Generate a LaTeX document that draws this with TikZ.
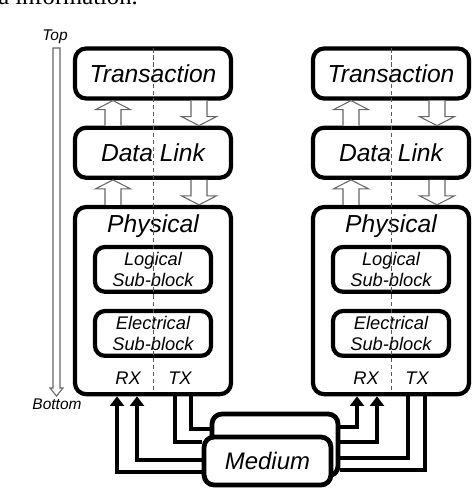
\documentclass[tikz,border=0pt]{standalone}
\usepackage{fontspec}
\setmainfont{Liberation Sans}
\newfontfamily\capfont{Liberation Serif}
\usepackage{tikz}
\usetikzlibrary{positioning, calc, arrows.meta}
\tikzset{layer/.style={draw, line width=3pt, rounded corners=0.28cm, minimum width=3.9cm, minimum height=1.25cm, inner sep=0pt, font=\fontsize{17.5}{20}\selectfont\itshape}}
\tikzset{subblock/.style={draw, line width=3pt, rounded corners=0.25cm, minimum width=2.9cm, minimum height=1.12cm, inner sep=0pt, align=center, font=\fontsize{13}{15.5}\selectfont\itshape}}
\tikzset{medium/.style={draw, fill=white, line width=3.4pt, rounded corners=0.25cm, inner sep=0pt, font=\fontsize{17}{20}\selectfont\itshape}}
\tikzset{title/.style={inner sep=0pt, font=\fontsize{17.5}{20}\selectfont\itshape}}
\tikzset{port/.style={inner sep=0pt, font=\fontsize{13}{15}\selectfont\itshape}}
\tikzset{edgetext/.style={inner sep=0pt, font=\fontsize{11}{13}\selectfont\itshape}}
\tikzset{wire/.style={line width=3.4pt, -{Triangle[width=0.35cm, length=0.24cm]}}}
\tikzset{plain/.style={line width=3.4pt}}
\tikzset{hollow/.style={draw=black!60, line width=0.75pt, fill=white}}
\tikzset{divider/.style={draw=black!65, line width=0.6pt, dash pattern=on 3pt off 2pt}}
\tikzset{uparr/.pic={\draw[hollow] (-8,0) -- (-8,-16) -- (-17.5,-16) -- (0,-25) -- (17.5,-16) -- (8,-16) -- (8,0);}}
\tikzset{dnarr/.pic={\draw[hollow] (-8,0) -- (-8,16) -- (-17.5,16) -- (0,25) -- (17.5,16) -- (8,16) -- (8,0);}}

\begin{document}
\begin{tikzpicture}[x=0.025cm, y=-0.025cm]
      \useasboundingbox (0,0) rectangle (474,490);

      \node[font=\capfont\fontsize{17.5}{20}\selectfont, anchor=base east, inner sep=0pt] (cap) at (138,5) {a information.};

      % left stack
      \node[layer] (tranL) at (153,73.5) {Transaction};
      \node[layer, below=0.625cm of tranL] (linkL) {Data Link};
      \node[layer, minimum height=4.68cm, below=0.625cm of linkL] (phyL) {};
      \node[title] (phyLt) at ($(phyL.north)+(0,21)$) {Physical};
      \node[subblock, below=1.0cm of phyL.north] (logL) {Logical\\Sub-block};
      \node[subblock, below=0.375cm of logL] (eleL) {Electrical\\Sub-block};
      \node[port] (rxL) at ($(phyL.south)+(-25,-18)$) {RX};
      \node[port] (txL) at ($(phyL.south)+(27,-18)$) {TX};
      \pic at ($(linkL.north)+(-40,0)$) {uparr};
      \pic at ($(tranL.south)+(46,0)$) {dnarr};
      \pic at ($(phyL.north)+(-40,0)$) {uparr};
      \pic at ($(linkL.south)+(46,0)$) {dnarr};

      % right stack
      \node[layer] (tranR) at (391,73.5) {Transaction};
      \node[layer, below=0.625cm of tranR] (linkR) {Data Link};
      \node[layer, minimum height=4.68cm, below=0.625cm of linkR] (phyR) {};
      \node[title] (phyRt) at ($(phyR.north)+(0,21)$) {Physical};
      \node[subblock, below=1.0cm of phyR.north] (logR) {Logical\\Sub-block};
      \node[subblock, below=0.375cm of logR] (eleR) {Electrical\\Sub-block};
      \node[port] (rxR) at ($(phyR.south)+(-25,-18)$) {RX};
      \node[port] (txR) at ($(phyR.south)+(26,-18)$) {TX};
      \pic at ($(linkR.north)+(-40,0)$) {uparr};
      \pic at ($(tranR.south)+(46,0)$) {dnarr};
      \pic at ($(phyR.north)+(-40,0)$) {uparr};
      \pic at ($(linkR.south)+(46,0)$) {dnarr};

      % top to bottom
      \node[edgetext] (top) at (55,37) {Top};
      \node[edgetext] (bot) at (57,404) {Bottom};
      \draw[hollow] (53,48) -- (53,388) -- (50,388) -- (56.5,396) -- (63,388) -- (60,388) -- (60,48) -- cycle;

      % medium
      \node[medium, minimum width=3.15cm, minimum height=1.55cm] (medB) at (275,445) {};
      \node[medium, minimum width=3.17cm, minimum height=1.2cm] (medF) at (267.5,461) {Medium};

      \draw[wire] ($(medF.west)+(0,11)$) -| ($(phyL.south)+(-36,0)$);
      \draw[wire] ($(medF.west)+(0,-1)$) -| ($(phyL.south)+(-16,0)$);
      \draw[plain] ($(phyL.south)+(22,0)$) |- ($(medF.west)+(0,-19)$);
      \draw[plain] ($(phyL.south)+(38,0)$) |- ($(medB.west)+(0,-16)$);

      \draw[wire] ($(medB.east)+(0,-18)$) -| ($(phyR.south)+(-34,0)$);
      \draw[wire] ($(medB.east)+(0,-3)$) -| ($(phyR.south)+(-14,0)$);
      \draw[plain] ($(phyR.south)+(17,0)$) |- ($(medB.east)+(0,13)$);
      \draw[plain] ($(phyR.south)+(34,0)$) |- ($(medB.east)+(0,25)$);

      \draw[divider] ($(tranL.north)+(0,2)$) -- ($(phyL.south)+(0,-5)$);
      \draw[divider] ($(tranR.north)+(0,2)$) -- ($(phyR.south)+(0,-5)$);
\end{tikzpicture}
\end{document}
